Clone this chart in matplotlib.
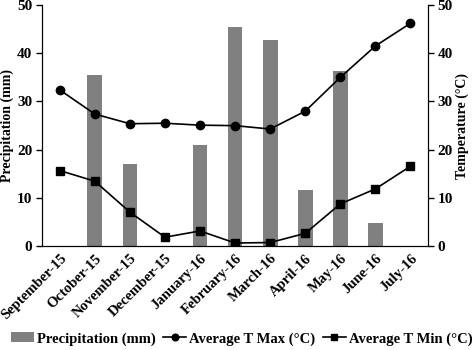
import matplotlib.pyplot as plt
import numpy as np

plt.rcParams["font.family"] = ["Liberation Serif", "DejaVu Serif"]
plt.rcParams["font.weight"] = "bold"

months = ["September-15", "October-15", "November-15", "December-15", "January-16",
          "February-16", "March-16", "April-16", "May-16", "June-16", "July-16"]
precip = [0, 35.5, 17.1, 0, 20.9, 45.5, 42.7, 11.7, 36.4, 4.9, 0]
t_max = [32.4, 27.4, 25.4, 25.5, 25.1, 25.0, 24.3, 28.0, 35.0, 41.5, 46.2]
t_min = [15.7, 13.5, 7.1, 1.9, 3.2, 0.7, 0.8, 2.7, 8.8, 11.9, 16.6]
y_ticks = [0, 10, 20, 30, 40, 50]

fig = plt.figure(figsize=(4.74, 3.5), dpi=100)
ax = fig.add_axes([0.089, 0.296, 0.814, 0.690])
x = np.arange(len(months))

bars = ax.bar(x, precip, width=0.42, color="#808080", label="Precipitation (mm)")
ax.set_xlim(-0.5, len(months) - 0.5)
ax.set_ylim(0, 50)
ax.set_yticks(y_ticks)
ax.set_ylabel("Precipitation (mm)", fontsize=10, fontweight="bold", labelpad=2)
ax.set_xticks(x)
ax.set_xticklabels(months, rotation=45, ha="right", rotation_mode="anchor", fontsize=10.5, fontweight="bold")
ax.tick_params(axis="x", length=0, pad=4)
ax.tick_params(axis="y", labelsize=11, length=4, width=1, direction="out", pad=3)
ax.spines["top"].set_visible(False)

ax2 = ax.twinx()
l1, = ax2.plot(x, t_max, color="black", marker="o", markersize=6, linewidth=1.2, label="Average T Max (°C)")
l2, = ax2.plot(x, t_min, color="black", marker="s", markersize=6, linewidth=1.2, label="Average T Min (°C)")
ax2.set_ylim(0, 50)
ax2.set_yticks(y_ticks)
ax2.set_ylabel("Temperature (°C)", fontsize=10, fontweight="bold", labelpad=2)
ax2.tick_params(axis="y", labelsize=11, length=4, width=1, direction="out", pad=3)
ax2.spines["top"].set_visible(False)

for a in (ax, ax2):
    for lbl in a.get_yticklabels():
        lbl.set_fontweight("bold")

fig.legend([bars, l1, l2], ["Precipitation (mm)", "Average T Max (°C)", "Average T Min (°C)"],
           loc="center", bbox_to_anchor=(0.51, 0.032), ncol=3, frameon=False,
           prop={"size": 10.5, "weight": "bold"}, handlelength=1.6, handletextpad=0.2,
           columnspacing=0.5, markerscale=0.8, borderpad=0.1)

fig.savefig("out.png", dpi=100)
